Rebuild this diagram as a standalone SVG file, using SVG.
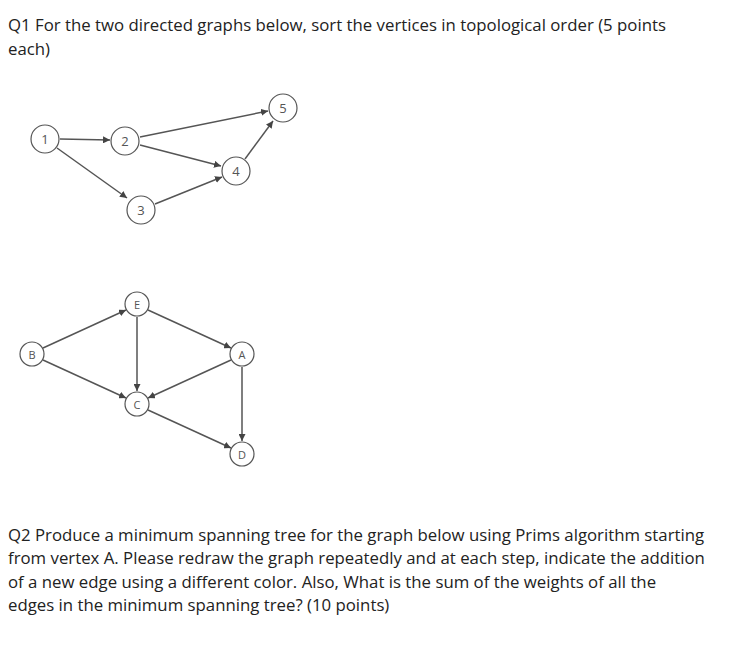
<svg xmlns="http://www.w3.org/2000/svg" width="753" height="668" viewBox="0 0 753 668">
<style>
.t{font-family:"Open Sans",sans-serif;font-size:16.8px;fill:#222}
.n circle{fill:#fff;stroke:#555;stroke-width:1.2}
.n text{font-family:"Open Sans",sans-serif;font-size:13px;fill:#555;text-anchor:middle;dominant-baseline:central}
.e line{stroke:#555;stroke-width:1.5;marker-end:url(#a)}
</style>
<defs><marker id="a" viewBox="0 0 10 10" refX="10" refY="5" markerWidth="7" markerHeight="7" orient="auto" markerUnits="userSpaceOnUse"><path d="M0,0L10,5L0,10z" fill="#444"/></marker></defs>
<rect width="753" height="668" fill="#fff"/>
<text class="t" x="8" y="31">Q1 For the two directed graphs below, sort the vertices in topological order (5 points</text>
<text class="t" x="8" y="55">each)</text>
<g class="e" id="connectors">
<line x1="60" y1="139" x2="110" y2="140"/>
<line x1="57" y1="148" x2="127" y2="198"/>
<line x1="140" y1="137" x2="268" y2="111"/>
<line x1="140" y1="145" x2="221" y2="166"/>
<line x1="155" y1="204" x2="222" y2="177"/>
<line x1="245" y1="159" x2="273" y2="121"/>
<line x1="43" y1="348" x2="126" y2="310"/>
<line x1="43" y1="360" x2="126" y2="398"/>
<line x1="137" y1="317" x2="137" y2="391"/>
<line x1="148" y1="310" x2="231" y2="348"/>
<line x1="231" y1="360" x2="148" y2="398"/>
<line x1="242" y1="367" x2="242" y2="441"/>
<line x1="148" y1="410" x2="231" y2="448"/>
</g>
<g class="n" id="n1"><circle cx="45" cy="139" r="14"/><text x="45" y="139">1</text></g>
<g class="n" id="n2"><circle cx="125" cy="141" r="14"/><text x="125" y="141">2</text></g>
<g class="n" id="n3"><circle cx="141" cy="210" r="14"/><text x="141" y="210">3</text></g>
<g class="n" id="n4"><circle cx="236" cy="171" r="14"/><text x="236" y="171">4</text></g>
<g class="n" id="n5"><circle cx="283" cy="108" r="14"/><text x="283" y="108">5</text></g>
<g class="n" id="nB"><circle cx="32" cy="354" r="12"/><text x="32" y="354" style="font-size:11px">B</text></g>
<g class="n" id="nE"><circle cx="137" cy="304" r="12"/><text x="137" y="304" style="font-size:11px">E</text></g>
<g class="n" id="nA"><circle cx="242" cy="354" r="12"/><text x="242" y="354" style="font-size:11px">A</text></g>
<g class="n" id="nC"><circle cx="137" cy="404" r="12"/><text x="137" y="404" style="font-size:11px">C</text></g>
<g class="n" id="nD"><circle cx="242" cy="454" r="12"/><text x="242" y="454" style="font-size:11px">D</text></g>
<text class="t" x="8" y="541">Q2 Produce a minimum spanning tree for the graph below using Prims algorithm starting</text>
<text class="t" x="8" y="564">from vertex A. Please redraw the graph repeatedly and at each step, indicate the addition</text>
<text class="t" x="8" y="588">of a new edge using a different color. Also, What is the sum of the weights of all the</text>
<text class="t" x="8" y="611">edges in the minimum spanning tree? (10 points)</text>
</svg>
